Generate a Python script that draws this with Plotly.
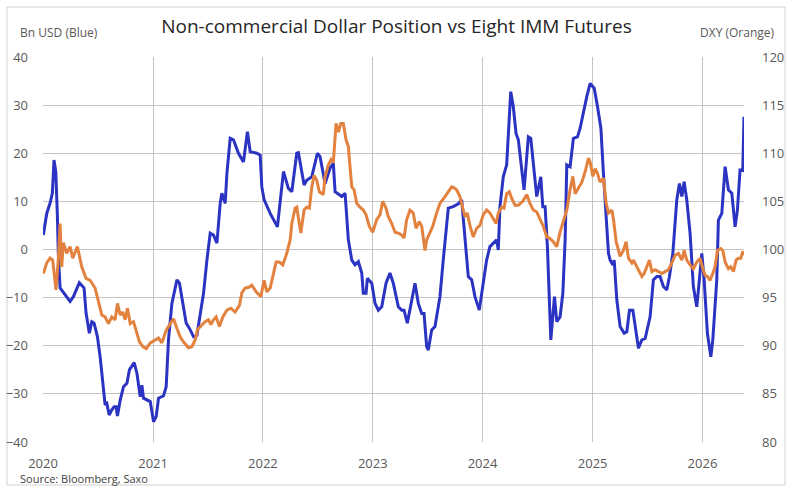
import pandas as pd
import plotly.graph_objects as go

# Decimal-year positions and values
blue_t = [0.003, 0.034, 0.064, 0.085, 0.100, 0.116, 0.130, 0.139, 0.155, 0.200, 0.246, 0.276, 0.330, 0.373,
          0.391, 0.421, 0.443, 0.464, 0.494, 0.519, 0.543, 0.564, 0.580, 0.601, 0.625, 0.646, 0.664, 0.676,
          0.701, 0.731, 0.762, 0.785, 0.828, 0.853, 0.883, 0.898, 0.913, 0.944, 0.974, 1.004, 1.028, 1.049,
          1.095, 1.119, 1.140, 1.171, 1.217, 1.240, 1.271, 1.301, 1.331, 1.368, 1.399, 1.422, 1.459, 1.490,
          1.520, 1.550, 1.581, 1.611, 1.626, 1.656, 1.672, 1.702, 1.732, 1.777, 1.823, 1.859, 1.884, 1.945,
          1.975, 1.990, 2.011, 2.066, 2.132, 2.187, 2.232, 2.263, 2.308, 2.323, 2.375, 2.399, 2.445, 2.496,
          2.520, 2.566, 2.611, 2.641, 2.657, 2.718, 2.748, 2.778, 2.809, 2.839, 2.869, 2.900, 2.914, 2.939,
          2.951, 2.991, 3.021, 3.051, 3.082, 3.121, 3.157, 3.187, 3.233, 3.264, 3.285, 3.315, 3.346, 3.385,
          3.415, 3.446, 3.467, 3.491, 3.506, 3.537, 3.567, 3.612, 3.642, 3.658, 3.688, 3.733, 3.779, 3.810,
          3.840, 3.870, 3.901, 3.931, 3.970, 3.992, 4.013, 4.037, 4.067, 4.097, 4.128, 4.143, 4.158, 4.188,
          4.219, 4.256, 4.279, 4.304, 4.325, 4.377, 4.416, 4.438, 4.461, 4.492, 4.529, 4.547, 4.568, 4.589,
          4.620, 4.653, 4.674, 4.704, 4.729, 4.750, 4.765, 4.795, 4.825, 4.862, 4.886, 4.916, 4.947, 4.977,
          5.014, 5.044, 5.075, 5.098, 5.123, 5.144, 5.159, 5.184, 5.196, 5.220, 5.250, 5.287, 5.311, 5.335,
          5.366, 5.396, 5.417, 5.448, 5.478, 5.523, 5.553, 5.584, 5.614, 5.644, 5.675, 5.699, 5.730, 5.766,
          5.790, 5.812, 5.833, 5.857, 5.887, 5.917, 5.948, 5.963, 5.994, 6.015, 6.045, 6.076, 6.094, 6.130,
          6.145, 6.176, 6.206, 6.236, 6.267, 6.297, 6.318, 6.342, 6.367, 6.378]
blue_v = [3.0, 7.5, 9.6, 11.7, 18.6, 16.2, 7.5, -0.8, -8.0, -9.5, -10.8, -9.8, -6.9, -8.0,
          -13.2, -17.4, -15.0, -15.3, -18.1, -22.3, -27.8, -32.3, -32.0, -34.4, -33.3, -32.7, -32.7, -34.6,
          -31.3, -28.5, -27.8, -25.0, -23.5, -25.7, -30.6, -28.2, -30.9, -31.3, -31.6, -35.8, -34.7, -30.9,
          -30.4, -28.5, -18.8, -11.2, -6.3, -7.0, -11.2, -15.3, -16.4, -18.1, -17.8, -14.6, -9.1, -2.2,
          3.4, 3.0, 1.3, 9.6, 11.7, 9.6, 15.8, 23.1, 22.8, 20.0, 18.2, 24.5, 20.3, 20.0,
          19.6, 13.0, 10.3, 7.5, 4.7, 16.2, 12.7, 12.0, 20.0, 20.1, 13.4, 14.4, 15.1, 20.0,
          19.3, 13.7, 16.9, 17.9, 12.0, 11.0, 11.7, 2.0, -2.2, -3.2, -2.5, -4.9, -9.1, -9.1,
          -6.0, -7.0, -11.2, -12.6, -11.9, -7.0, -4.9, -7.0, -11.9, -12.6, -12.6, -15.3, -11.9, -7.0,
          -11.2, -13.3, -13.3, -20.2, -20.9, -16.7, -16.0, -9.8, -2.2, 2.0, 8.6, 8.9, 9.5, 10.3,
          2.0, -5.6, -6.3, -9.8, -12.6, -9.1, -5.6, -2.2, 0.6, 1.3, 2.0, -0.1, 8.9, 15.1,
          17.6, 32.8, 29.7, 24.1, 22.8, 12.4, 23.4, 23.1, 17.9, 11.0, 15.1, 8.9, 8.9, 0.6,
          -18.8, -9.8, -15.0, -14.0, -9.1, 2.0, 17.6, 17.2, 23.1, 23.4, 25.2, 28.6, 31.8, 34.5,
          33.5, 29.7, 25.2, 15.8, 7.5, -0.8, -2.2, -3.2, -2.2, -10.5, -16.0, -17.4, -17.1, -12.6,
          -12.6, -17.4, -20.5, -18.8, -18.5, -14.0, -6.3, -5.6, -5.6, -7.7, -8.4, -5.6, -0.8, 10.3,
          13.7, 11.0, 14.1, 10.3, 3.4, -7.7, -11.9, -8.4, -0.8, -6.3, -17.4, -22.3, -18.8, -6.3,
          6.1, 7.5, 17.2, 12.4, 11.7, 4.7, 8.2, 16.5, 16.4, 27.6]

orange_t = [0.003, 0.034, 0.064, 0.088, 0.118, 0.139, 0.155, 0.170, 0.185, 0.215, 0.246, 0.270, 0.312,
            0.352, 0.391, 0.428, 0.473, 0.519, 0.534, 0.564, 0.594, 0.625, 0.655, 0.676, 0.701, 0.725,
            0.746, 0.767, 0.792, 0.822, 0.853, 0.876, 0.907, 0.937, 0.974, 1.019, 1.049, 1.080, 1.119, 1.156,
            1.186, 1.217, 1.247, 1.283, 1.322, 1.353, 1.383, 1.404, 1.444, 1.474, 1.504, 1.526, 1.550, 1.574,
            1.604, 1.635, 1.672, 1.708, 1.747, 1.786, 1.808, 1.838, 1.877, 1.899, 1.938, 1.981, 2.011, 2.035,
            2.066, 2.090, 2.120, 2.150, 2.181, 2.217, 2.248, 2.263, 2.293, 2.308, 2.345, 2.375, 2.399, 2.423,
            2.445, 2.466, 2.490, 2.514, 2.536, 2.550, 2.566, 2.596, 2.627, 2.641, 2.666, 2.687, 2.709, 2.732,
            2.757, 2.778, 2.793, 2.809, 2.830, 2.854, 2.884, 2.914, 2.939, 2.969, 3.000, 3.036, 3.066, 3.091,
            3.121, 3.142, 3.173, 3.203, 3.233, 3.264, 3.285, 3.309, 3.339, 3.369, 3.394, 3.424, 3.446, 3.476,
            3.491, 3.515, 3.546, 3.582, 3.612, 3.658, 3.688, 3.719, 3.740, 3.764, 3.794, 3.819, 3.840, 3.861,
            3.885, 3.915, 3.946, 3.976, 4.006, 4.037, 4.067, 4.097, 4.122, 4.143, 4.174, 4.195, 4.219, 4.243,
            4.265, 4.295, 4.325, 4.365, 4.401, 4.431, 4.461, 4.492, 4.522, 4.552, 4.583, 4.607, 4.643, 4.674,
            4.704, 4.734, 4.765, 4.795, 4.820, 4.841, 4.871, 4.902, 4.932, 4.962, 4.977, 5.002, 5.023, 5.044,
            5.068, 5.098, 5.123, 5.144, 5.175, 5.190, 5.214, 5.250, 5.280, 5.305, 5.326, 5.357, 5.371, 5.402,
            5.426, 5.448, 5.469, 5.493, 5.517, 5.539, 5.569, 5.599, 5.630, 5.660, 5.690, 5.721, 5.751, 5.781,
            5.812, 5.833, 5.857, 5.887, 5.917, 5.948, 5.978, 6.003, 6.024, 6.045, 6.069, 6.094, 6.115, 6.136,
            6.166, 6.185, 6.206, 6.236, 6.258, 6.282, 6.306, 6.327, 6.349, 6.367, 6.378]
orange_v = [97.5, 98.6, 99.1, 98.9, 95.8, 99.0, 102.7, 98.2, 100.7, 99.6, 100.3, 99.1, 100.3,
            98.2, 97.0, 96.8, 96.0, 94.0, 93.2, 93.0, 92.3, 93.0, 92.7, 94.4, 93.2, 93.5,
            92.7, 93.9, 92.3, 92.5, 91.3, 90.4, 89.9, 89.7, 90.3, 90.6, 90.8, 90.3, 91.6, 92.3,
            92.8, 91.8, 90.9, 90.3, 89.8, 89.9, 90.6, 91.7, 92.2, 92.5, 92.7, 92.2, 92.7, 93.0,
            92.0, 93.0, 93.7, 93.9, 93.5, 94.2, 95.5, 96.0, 96.1, 96.3, 95.6, 95.1, 96.8, 95.6,
            96.0, 97.2, 98.7, 98.7, 98.4, 99.6, 101.0, 102.7, 104.3, 104.4, 101.7, 104.1, 104.4, 104.3,
            106.5, 107.7, 107.2, 106.0, 105.8, 105.7, 107.6, 108.8, 109.5, 109.0, 113.1, 112.2, 113.1, 113.1,
            111.4, 110.7, 108.6, 106.5, 106.2, 104.8, 104.4, 104.1, 103.6, 102.4, 101.8, 103.1, 103.6, 105.0,
            104.3, 103.4, 102.7, 101.8, 101.7, 101.5, 101.2, 103.1, 104.1, 103.8, 102.2, 102.9, 102.4, 99.9,
            101.0, 101.7, 102.4, 103.8, 104.8, 105.5, 106.0, 106.5, 106.4, 106.2, 105.5, 104.4, 103.4, 103.8,
            102.5, 101.3, 102.2, 102.5, 103.6, 104.1, 103.8, 103.2, 102.7, 103.8, 104.4, 104.3, 105.8, 106.0,
            105.3, 104.6, 104.6, 105.0, 105.7, 104.8, 104.1, 103.9, 103.1, 102.4, 101.3, 101.2, 100.8, 100.3,
            101.8, 102.9, 104.1, 106.2, 107.6, 105.8, 106.4, 107.0, 108.1, 109.5, 109.1, 107.6, 108.4, 107.9,
            107.0, 107.4, 104.8, 103.8, 104.1, 103.1, 100.8, 99.3, 99.9, 100.8, 99.1, 98.6, 98.9, 98.2,
            97.7, 97.2, 97.5, 98.2, 98.9, 97.7, 97.9, 97.7, 97.5, 97.7, 97.9, 98.6, 99.4, 99.6,
            98.9, 99.9, 98.9, 98.4, 98.0, 98.7, 99.1, 98.0, 97.3, 97.2, 96.8, 97.5, 98.2, 99.9,
            100.1, 99.9, 98.7, 98.0, 98.2, 97.7, 98.9, 99.1, 99.1, 99.8, 99.4]

left_ticks = [-40, -30, -20, -10, 0, 10, 20, 30, 40]
right_ticks = [80, 85, 90, 95, 100, 105, 110, 115, 120]


def to_dates(ts):
    out = []
    for t in ts:
        yr = 2020 + int(t)
        start = pd.Timestamp(f"{yr}-01-01")
        days = (pd.Timestamp(f"{yr + 1}-01-01") - start).days
        out.append(start + pd.Timedelta(days=(t - int(t)) * days))
    return out


BLUE = "#2b33c2"
ORANGE = "#e3823f"
GRID = "#c4c4c4"
TXT = "#595959"
FONT = "Open Sans"

fig = go.Figure()
fig.add_trace(go.Scatter(x=to_dates(blue_t), y=blue_v, mode="lines",
                         line=dict(color=BLUE, width=3), yaxis="y", showlegend=False))
fig.add_trace(go.Scatter(x=to_dates(orange_t), y=orange_v, mode="lines",
                         line=dict(color=ORANGE, width=3), yaxis="y2", showlegend=False))

fig.update_layout(
    width=793, height=492,
    margin=dict(l=43, r=49, t=57, b=50, autoexpand=False),
    paper_bgcolor="white", plot_bgcolor="white",
    font=dict(family=FONT, color=TXT, size=13),
    title=dict(text="Non-commercial Dollar Position vs Eight IMM Futures",
               x=0.5, xref="container", xanchor="center",
               y=1 - 26 / 492, yref="container", yanchor="middle",
               font=dict(family=FONT, size=19, color="#262626")),
    xaxis=dict(type="date", range=["2020-01-01", "2026-05-19"],
               tick0="2020-01-01", dtick="M12", tickformat="%Y",
               showgrid=True, gridcolor=GRID, gridwidth=1,
               showline=False, zeroline=False, ticks="", automargin=False,
               ticklabelstandoff=12,
               tickfont=dict(size=13, color=TXT)),
    yaxis=dict(range=[-40, 40], tickvals=left_ticks,
               showgrid=True, gridcolor=GRID, gridwidth=1,
               zeroline=False, showline=False, ticks="", automargin=False,
               ticklabelstandoff=14,
               tickfont=dict(size=13, color=TXT)),
    yaxis2=dict(range=[80, 120], tickvals=right_ticks, overlaying="y", side="right",
                showgrid=False, zeroline=False, showline=False, ticks="", automargin=False,
                ticklabelstandoff=17,
                tickfont=dict(size=13, color=TXT)),
    annotations=[
        dict(text="Bn USD (Blue)", xref="paper", yref="paper",
             x=(18 - 43) / 701, y=(442 - 32) / 385, xanchor="left", yanchor="middle",
             showarrow=False, font=dict(size=12, color=TXT)),
        dict(text="DXY (Orange)", xref="paper", yref="paper",
             x=(777 - 43) / 701, y=(442 - 32) / 385, xanchor="right", yanchor="middle",
             showarrow=False, font=dict(size=12, color=TXT)),
        dict(text="Source: Bloomberg, Saxo", xref="paper", yref="paper",
             x=(18 - 43) / 701, y=(442 - 478) / 385, xanchor="left", yanchor="middle",
             showarrow=False, font=dict(size=11, color="#404040")),
    ],
    shapes=[dict(type="rect", xref="paper", yref="paper",
                 x0=(7 - 43) / 701, x1=(785 - 43) / 701,
                 y0=(442 - 485) / 385, y1=(442 - 7) / 385,
                 line=dict(color="#d0d0d0", width=1), fillcolor="rgba(0,0,0,0)",
                 layer="below")],
)

fig.write_html("out.html")
